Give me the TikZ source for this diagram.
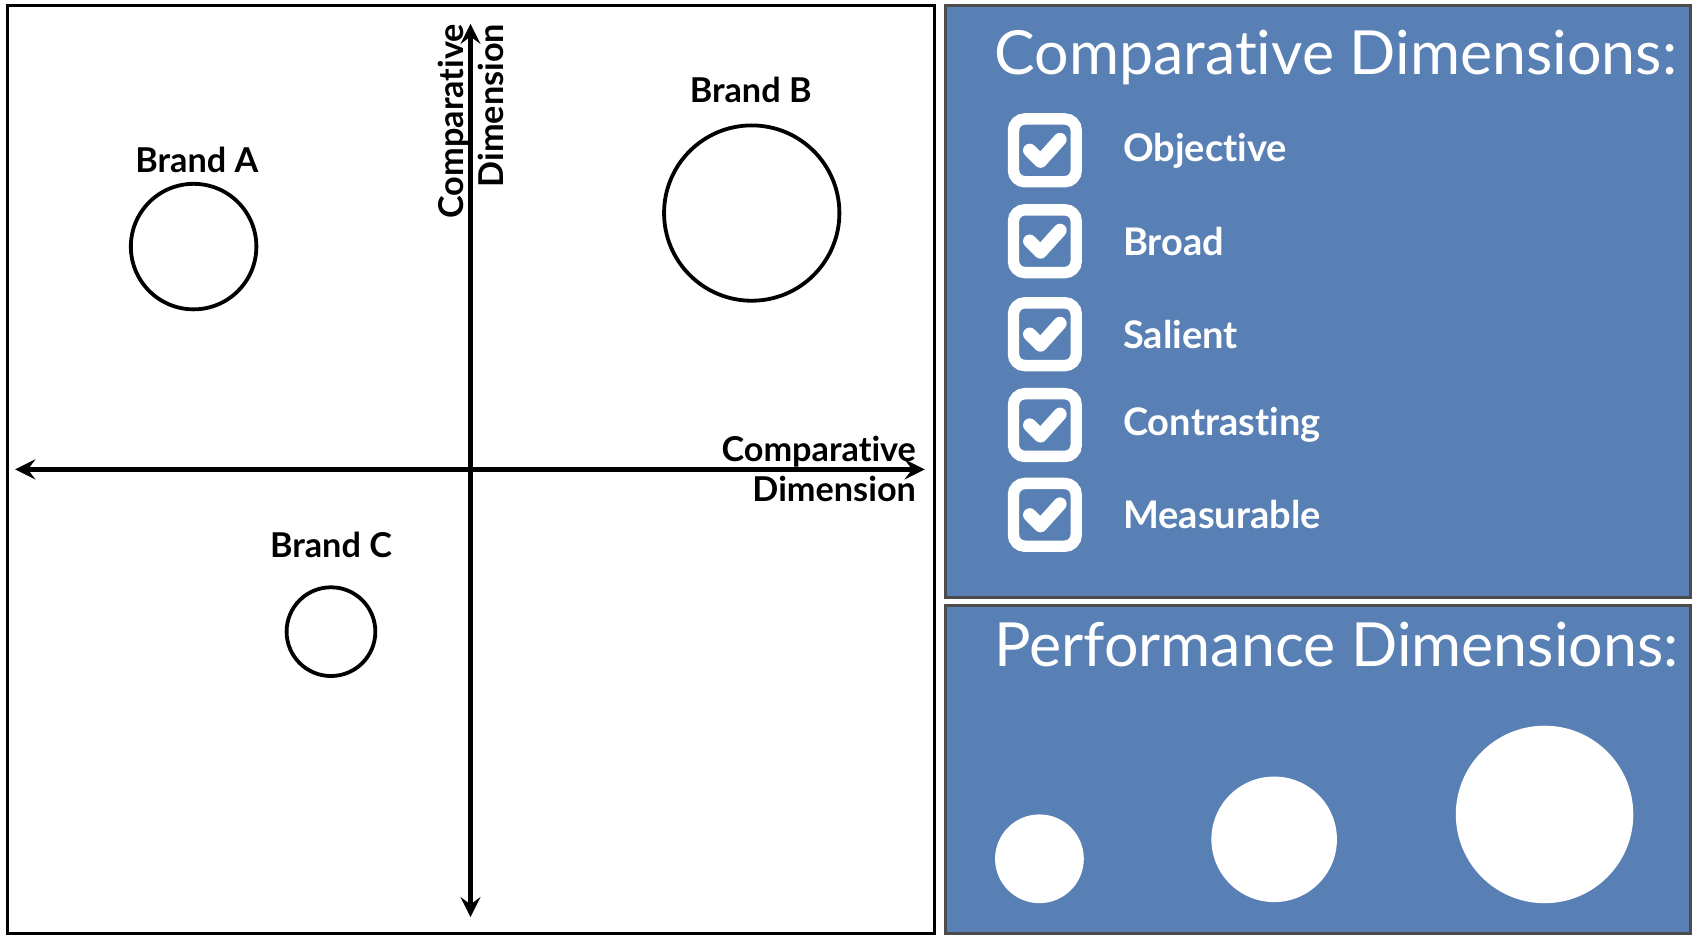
\documentclass[tikz,border=0pt]{standalone}
\usepackage{fontspec}
\setmainfont{Lato}[Ligatures={NoCommon,NoRare,NoDiscretionary}]
\usetikzlibrary{calc}
\definecolor{panelblue}{HTML}{5880B4}
\begin{document}
\begin{tikzpicture}[x=0.01cm,y=-0.01cm]
    \tikzset{
    brand/.style={circle,draw=black,line width=1pt,inner sep=0pt},
    lbl/.style={font=\bfseries\fontsize{9}{10.5}\selectfont},
    panel/.style={fill=panelblue,draw=black!70,line width=0.8pt},
    tick/.style={draw=white,line width=3pt,rounded corners=3pt,minimum size=0.58cm},
    item/.style={anchor=west,text=white,font=\bfseries\fontsize{10}{12}\selectfont},
    head/.style={anchor=west,text=white,font=\fontsize{16}{19}\selectfont},
    perf/.style={circle,fill=white,inner sep=0pt},
    }
    \useasboundingbox (0,0) rectangle (1568,871);
    % map
    \draw[line width=0.8pt] (7,5) rectangle (864,863);
    \coordinate (xl) at (14,434);
    \coordinate (xr) at (855,434);
    \coordinate (yt) at (435,22);
    \coordinate (yb) at (435,848);
    \draw[<->,>=stealth,line width=1.3pt] (xl) -- (xr);
    \draw[<->,>=stealth,line width=1.3pt] (yt) -- (yb);
    \node[lbl,align=right,anchor=south east,inner sep=1pt] (xlab) at (851,468) {Comparative\\Dimension};
    \node[lbl,align=right,rotate=90,anchor=east,inner sep=1pt] (ylab) at (435,18) {Comparative\\Dimension};
    \node[brand,minimum size=1.16cm] (a) at (179,228) {};
    \node[lbl] (la) at (182,148) {Brand A};
    \node[brand,minimum size=1.62cm] (b) at (695,197) {};
    \node[lbl] (lb) at (694,83) {Brand B};
    \node[brand,minimum size=0.82cm] (c) at (306,584) {};
    \node[lbl] (lc) at (306,504) {Brand C};
    % comparative dimensions
    \draw[panel] (874,5) rectangle (1563,552);
    \node[head] (h1) at (907,53) {Comparative Dimensions:};
    \foreach \y/\t [count=\i] in {139/Objective,223/Broad,309/Salient,393/Contrasting,476/Measurable}{
        \node[tick] (box\i) at (966,\y) {};
        \draw[white,line width=3.5pt,line cap=round,line join=round]
            ($(box\i.center)+(-14,0)$) -- ++(10,10) -- ++(18,-20);
        \node[item] (it\i) at (1026,\y) {\t};
    }
    % performance dimensions
    \draw[panel] (874,560) rectangle (1563,863);
    \node[head] (h2) at (907,596) {Performance Dimensions:};
    \node[perf,minimum size=0.82cm] (p1) at (961,794) {};
    \node[perf,minimum size=1.16cm] (p2) at (1178,776) {};
    \node[perf,minimum size=1.64cm] (p3) at (1428,753) {};
\end{tikzpicture}
\end{document}
